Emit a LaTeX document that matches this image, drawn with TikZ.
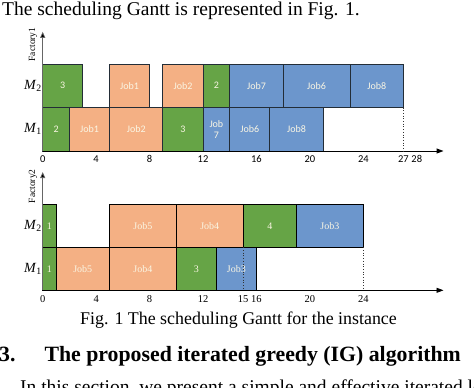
\documentclass[tikz,border=0pt]{standalone}
\usepackage{fontspec}
\setmainfont{Liberation Serif}
\newfontfamily\calib{Carlito}
\usetikzlibrary{arrows.meta}
\definecolor{ggreen}{RGB}{102,164,70}
\definecolor{gorange}{RGB}{244,176,132}
\definecolor{gblue}{RGB}{108,150,204}
\definecolor{glabel}{RGB}{250,246,228}
\definecolor{gborder}{RGB}{35,45,55}
\begin{document}
\begin{tikzpicture}[x=1pt,y=-1pt,
  blkA/.style={draw=gborder,line width=0.9pt},
  blkB/.style={draw=black,line width=0.9pt},
  lblA/.style={text=glabel,font=\calib\fontsize{10}{11}\selectfont,align=center,inner sep=0pt},
  lblB/.style={text=glabel,font=\fontsize{10}{11}\selectfont,align=center,inner sep=0pt},
  tickA/.style={font=\calib\fontsize{10.5}{12}\selectfont,inner sep=0pt},
  tickB/.style={font=\fontsize{10.5}{12}\selectfont,inner sep=0pt},
  yax/.style={draw=black!60,line width=0.7pt,-{Triangle[length=6pt,width=5pt,fill=black]}},
  xax/.style={draw=black,line width=1pt,-{Triangle[length=7pt,width=5pt,fill=black]}},
  dotl/.style={draw=black!80,line width=0.7pt,dotted},
  mlab/.style={font=\fontsize{14}{16}\selectfont,inner sep=0pt},
  flab/.style={font=\fontsize{9.5}{11}\selectfont,rotate=90,inner sep=0pt},
  txt/.style={inner sep=0pt,anchor=base west}]
\useasboundingbox (0,0) rectangle (474,388);
\clip (0,0) rectangle (474,388);

\node[txt,font=\fontsize{19.5}{22}\selectfont] (intro) at (2,15) {The scheduling Gantt is represented in Fig. 1.};

% ---------- Factory 1 ----------
\begin{scope}[shift={(42.7,151)},x=13.36pt,y=43.5pt]
  \foreach \a/\b/\c/\t/\n in {0/3/ggreen/3/a,5/8/gorange/Job1/b,9/12/gorange/Job2/c,12/14/ggreen/2/d,14/18/gblue/Job7/e,18/23/gblue/Job6/f,23/27/gblue/Job8/g}
    \path[blkA,fill=\c] (\a,1) rectangle (\b,2) node[midway,lblA] (fa2\n) {\t};
  \foreach \a/\b/\c/\t/\n in {0/2/ggreen/2/a,2/5/gorange/Job1/b,5/9/gorange/Job2/c,9/12/ggreen/3/d,12/14/gblue/{Job\\7}/e,14/17/gblue/Job6/f,17/21/gblue/Job8/g}
    \path[blkA,fill=\c] (\a,0) rectangle (\b,1) node[midway,lblA] (fa1\n) {\t};
  \coordinate (o1) at (0,0);
  \coordinate (y1) at (0,2.74);
  \coordinate (x1) at (30,0);
  \coordinate (d1t) at (27,1);
  \coordinate (d1b) at (27,0);
  \draw[yax] (o1) -- (y1);
  \draw[xax] (o1) -- (x1);
  \draw[dotl] (d1t) -- (d1b);
  \foreach \v in {0,4,8,12,16,20,24,27,28}
    \node[tickA] (t1\v) at (\v,-0.185) {\v};
  \node[mlab] (m12) at (-0.73,1.5) {\textit{M}\textsubscript{2}};
  \node[mlab] (m11) at (-0.73,0.5) {\textit{M}\textsubscript{1}};
  \node[flab] (f1) at (-0.73,2.45) {Factory1};
\end{scope}

% ---------- Factory 2 ----------
\begin{scope}[shift={(42.7,290.3)},x=13.36pt,y=43pt]
  \foreach \a/\b/\c/\t/\n in {0/1/ggreen/1/a,5/10/gorange/Job5/b,10/15/gorange/Job4/c,15/19/ggreen/4/d,19/24/gblue/Job3/e}
    \path[blkB,fill=\c] (\a,1) rectangle (\b,2) node[midway,lblB] (fb2\n) {\t};
  \foreach \a/\b/\c/\t/\n in {0/1/ggreen/1/a,1/5/gorange/Job5/b,5/10/gorange/Job4/c,10/13/ggreen/3/d,13/16/gblue/Job3/e}
    \path[blkB,fill=\c] (\a,0) rectangle (\b,1) node[midway,lblB] (fb1\n) {\t};
  \coordinate (o2) at (0,0);
  \coordinate (y2) at (0,2.75);
  \coordinate (x2) at (30,0);
  \coordinate (d2t) at (15,1);
  \coordinate (d2b) at (15,0);
  \coordinate (d3t) at (24,1);
  \coordinate (d3b) at (24,0);
  \draw[yax] (o2) -- (y2);
  \draw[xax,line width=0.8pt] (o2) -- (x2);
  \draw[dotl] (d2t) -- (d2b);
  \draw[dotl] (d3t) -- (d3b);
  \foreach \v in {0,4,8,12,15,16,20,24}
    \node[tickB] (t2\v) at (\v,-0.2) {\v};
  \node[mlab] (m22) at (-0.73,1.5) {\textit{M}\textsubscript{2}};
  \node[mlab] (m21) at (-0.73,0.5) {\textit{M}\textsubscript{1}};
  \node[flab] (f2) at (-0.73,2.42) {Factory2};
\end{scope}

\node[txt,font=\fontsize{17.9}{20}\selectfont] (cap) at (80,324) {Fig. 1 The scheduling Gantt for the instance};
\node[txt,font=\bfseries\fontsize{21.8}{24}\selectfont] (h3) at (-1,361) {3.};
\node[txt,font=\bfseries\fontsize{21.8}{24}\selectfont] (head) at (44.3,361) {The proposed iterated greedy (IG) algorithm};
\node[txt,font=\fontsize{19.5}{22}\selectfont] (body) at (20,393) {In this section, we present a simple and effective iterated local};
\end{tikzpicture}
\end{document}
